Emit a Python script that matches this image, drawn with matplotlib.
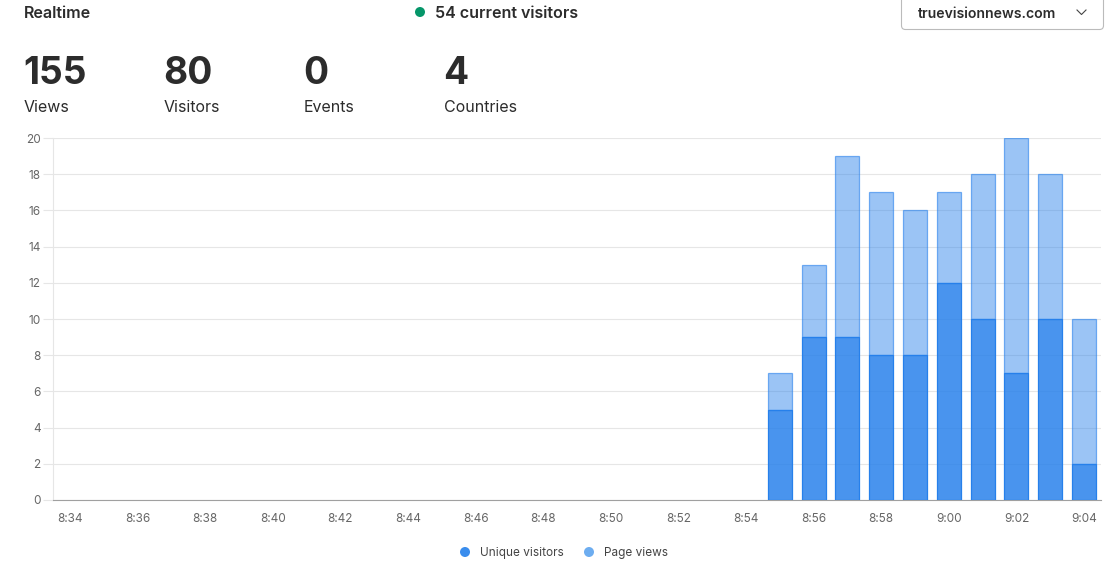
import matplotlib
matplotlib.use("Agg")
import matplotlib.pyplot as plt
from matplotlib.lines import Line2D
from matplotlib.patches import FancyBboxPatch, Circle

W, H = 1118, 581

minutes = ["8:%02d" % m for m in range(34, 60)] + ["9:%02d" % m for m in range(0, 5)]
unique_visitors = [0] * 21 + [5, 9, 9, 8, 8, 12, 10, 7, 10, 2]
page_views = [0] * 21 + [2, 4, 10, 9, 8, 5, 8, 13, 8, 8]
stat_values = ["155", "80", "0", "4"]
stat_labels = ["Views", "Visitors", "Events", "Countries"]
stat_x = [24, 164, 304, 444]

plt.rcParams["font.family"] = ["Inter", "DejaVu Sans"]
TEXT = "#2c2c2c"
TICK = "#666666"
BLUE = (38 / 255, 128 / 255, 235 / 255)

fig = plt.figure(figsize=(W / 100, H / 100), dpi=100)


def fx(x):
    return x / W


def fy(y):
    return 1 - y / H


# chart area
ax = fig.add_axes([fx(53), fy(500), (1101 - 53) / W, (500 - 138) / H])
xs = list(range(len(minutes)))
# empty minutes get no bar, their edges would smear along the baseline
shown = [i for i in xs if unique_visitors[i] + page_views[i] > 0]
ax.bar(shown, [unique_visitors[i] for i in shown], width=0.71, color=BLUE + (0.84,),
       edgecolor="#2680eb", linewidth=0.9, zorder=3)
ax.bar(shown, [page_views[i] for i in shown], bottom=[unique_visitors[i] for i in shown], width=0.71,
       color=BLUE + (0.46,), edgecolor=BLUE + (0.6,), linewidth=0.9, zorder=3)
ax.set_xlim(-0.5, len(minutes) - 0.5)
ax.set_ylim(0, 20)
ax.set_yticks(range(0, 21, 2))
ax.set_xticks(xs[::2])
ax.set_xticklabels(minutes[::2])
ax.grid(axis="y", color="#e6e6e6", linewidth=0.8, zorder=0)
ax.set_axisbelow(True)
for side in ["top", "right"]:
    ax.spines[side].set_visible(False)
ax.spines["left"].set_color("#e6e6e6")
ax.spines["bottom"].set_color("#a0a0a0")
ax.tick_params(axis="y", length=7, width=0.8, color="#e6e6e6", labelsize=8.5, labelcolor=TICK, pad=2)
ax.tick_params(axis="x", length=0, labelsize=8.5, labelcolor=TICK, pad=9)

# header
fig.text(fx(24), fy(14), "Realtime", fontsize=11.6, fontweight="semibold", color=TEXT, va="center")
fig.add_artist(Circle((420, H - 12), 5, transform=None, color="#059669", linewidth=0))
fig.text(fx(435), fy(14), "54 current visitors", fontsize=11.55, fontweight="semibold", color=TEXT, va="center")

# site picker, top edge runs off the page
fig.add_artist(FancyBboxPatch((901.5, H - 29.5), 202, 50, boxstyle="round,pad=0,rounding_size=4",
                              transform=None, facecolor="white", edgecolor="#bbbbbb", linewidth=0.8))
fig.text(fx(918), fy(14), "truevisionnews.com", fontsize=10.1, fontweight="semibold", color=TEXT, va="center")
fig.add_artist(Line2D([fx(1077), fx(1081.5), fx(1086)], [fy(10), fy(14.5), fy(10)],
                      transform=fig.transFigure, color="#444444", linewidth=0.8))

# stats row
for x, val, lab in zip(stat_x, stat_values, stat_labels):
    fig.text(fx(x - 0.5), fy(74), val, fontsize=26.8, fontweight="bold", color=TEXT, va="center")
    fig.text(fx(x), fy(107), lab, fontsize=11.5, color=TEXT, va="center")

# legend
fig.add_artist(Circle((465, H - 552), 5, transform=None, color="#3a8ded", linewidth=0))
fig.text(fx(479.5), fy(553), "Unique visitors", fontsize=8.5, color="#444444", va="center")
fig.add_artist(Circle((589, H - 552), 5, transform=None, color="#6dadf0", linewidth=0))
fig.text(fx(603.5), fy(553), "Page views", fontsize=8.5, color="#444444", va="center")

fig.savefig("out.png", dpi=100)
